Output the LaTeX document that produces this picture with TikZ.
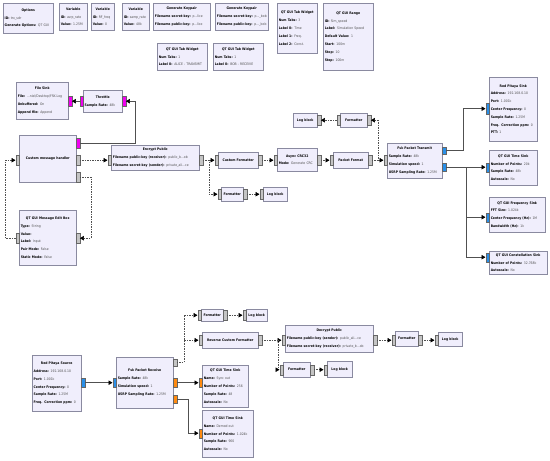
\documentclass[tikz,border=0pt]{standalone}
\usepackage{fontspec}
\setmainfont{DejaVu Sans Condensed}
\usetikzlibrary{arrows.meta}
\definecolor{blkfill}{HTML}{F0EEFC}
\definecolor{blkdraw}{HTML}{8A8AA0}
\definecolor{portgray}{HTML}{C4C4C4}
\definecolor{portmag}{HTML}{F000F0}
\definecolor{portblue}{HTML}{2A8FE8}
\definecolor{portorange}{HTML}{FF8A10}
\definecolor{wire}{HTML}{505050}
\definecolor{valcol}{HTML}{505050}
\newcommand\blkfont{\fontsize{3.4}{7.8}\selectfont}
\newcommand\ttl[1]{\makebox[\linewidth][c]{\bfseries #1}\par}
\newcommand\pv[2]{\mbox{\textbf{#1:} {\color{valcol}#2}}}
\newcommand\gblock[6]{\pgfmathsetmacro\tw{#4-3}\node[blk, minimum width=#4pt, minimum height=#5pt, text width=\tw pt] (#1) at (#2,#3) {#6};}
\newcommand\gport[6]{\node[port, fill=#6, minimum width=#4pt, minimum height=#5pt] (#1) at (#2,#3) {};}
\tikzset{
 blk/.style={draw=blkdraw, fill=blkfill, line width=0.5pt, anchor=north west, inner xsep=1.5pt, inner ysep=1pt, align=left, font=\blkfont, execute at begin node={\setlength\parindent{0pt}}},
 port/.style={draw=black!60, line width=0.4pt, anchor=north west, inner sep=0pt},
 stream/.style={draw=wire, line width=0.6pt, -{Triangle[length=4pt,width=4.5pt,color=black]}},
 msg/.style={draw=wire, line width=0.5pt, dash pattern=on 1.5pt off 1pt, -{Triangle[length=4pt,width=4.5pt,color=black]}}
}
\begin{document}
\begin{tikzpicture}[x=1pt,y=-1pt]
\useasboundingbox (0,0) rectangle (550,461);
\fill[white] (0,0) rectangle (550,461);
% top row
\gblock{opt}{3}{3}{50}{30}{\ttl{Options}\pv{ID}{trx\_sdr}\\\pv{Generate Options}{QT GUI}}
\gblock{var1}{59}{3}{28}{27}{\ttl{Variable}\pv{ID}{usrp\_rate}\\\pv{Value}{1.25M}}
\gblock{var2}{91}{3}{23}{27}{\ttl{Variable}\pv{ID}{RF\_freq}\\\pv{Value}{0}}
\gblock{var3}{122}{3}{27}{27}{\ttl{Variable}\pv{ID}{samp\_rate}\\\pv{Value}{48k}}
\gblock{key1}{153}{3}{57}{27}{\ttl{Generate Keypair}\pv{Filename secret-key}{p...lice}\\\pv{Filename public-key}{p...lice}}
\gblock{key2}{215}{3}{53}{27}{\ttl{Generate Keypair}\pv{Filename secret-key}{p...\_bob}\\\pv{Filename public-key}{p...\_bob}}
\gblock{tab3}{277}{3}{40}{50}{\ttl{QT GUI Tab Widget}\pv{Num Tabs}{3}\\\pv{Label 0}{Time}\\\pv{Label 1}{Freq.}\\\pv{Label 2}{Const.}}
\gblock{rng}{323}{3}{50}{67}{\ttl{QT GUI Range}\pv{ID}{Sim\_speed}\\\pv{Label}{Simulation Speed}\\\pv{Default Value}{1}\\\pv{Start}{100m}\\\pv{Stop}{10}\\\pv{Step}{100m}}
\gblock{tabA}{157}{43}{50}{27}{\ttl{QT GUI Tab Widget}\pv{Num Tabs}{1}\\\pv{Label 0}{ALICE - TRANSMIT}}
\gblock{tabB}{213}{43}{50}{27}{\ttl{QT GUI Tab Widget}\pv{Num Tabs}{1}\\\pv{Label 0}{BOB - RECEIVE}}
% left part
\gblock{fsink}{16}{82}{52}{37}{\ttl{File Sink}\pv{File}{...niel/Desktop/FSK.Log}\\\pv{Unbuffered}{On}\\\pv{Append file}{Append}}
\gport{fsink-in}{68}{96}{3.5}{10}{portmag}
\gblock{thr}{83}{90}{39}{22}{\ttl{Throttle}\pv{Sample Rate}{48k}}
\gport{thr-out}{79.5}{96}{3.5}{10}{portmag}
\gport{thr-in}{122}{96}{3.5}{10}{portmag}
\gblock{cmh}{19}{135}{57}{47}{\ttl{Custom message handler}}
\gport{cmh-o1}{76}{138}{3.5}{10}{portmag}
\gport{cmh-o2}{76}{155}{3.5}{10}{portgray}
\gport{cmh-o3}{76}{172}{3.5}{10}{portgray}
\gport{cmh-in}{15.5}{155}{3.5}{10}{portgray}
\gblock{meb}{19}{210}{57}{55}{\ttl{QT GUI Message Edit Box}\pv{Type}{String}\\\pv{Value}{}\\\pv{Label}{Input}\\\pv{Pair Mode}{False}\\\pv{Static Mode}{False}}
\gport{meb-in}{76}{233}{3.5}{10}{portgray}
\gport{meb-out}{15.5}{233}{3.5}{10}{portgray}
% transmit chain
\gblock{enc}{111}{145}{88}{25}{\ttl{Encrypt Public}\pv{Filename public-key (receiver)}{public\_b...ob}\\\pv{Filename secret-key (sender)}{private\_ali...ce}}
\gport{enc-in}{107.5}{155}{3.5}{10}{portgray}
\gport{enc-out}{199}{155}{3.5}{10}{portgray}
\gblock{cfmt}{218}{152}{40}{16}{\ttl{Custom Formatter}}
\gport{cfmt-in}{214.5}{155}{3.5}{10}{portgray}
\gport{cfmt-out}{258}{155}{3.5}{10}{portgray}
\gblock{crc}{277}{148}{40}{23}{\ttl{Async CRC32}\pv{Mode}{Generate CRC}}
\gport{crc-in}{273.5}{155}{3.5}{10}{portgray}
\gport{crc-out}{317}{155}{3.5}{10}{portgray}
\gblock{pfmt}{333}{152}{35}{16}{\ttl{Packet Format}}
\gport{pfmt-in}{329.5}{155}{3.5}{10}{portgray}
\gport{pfmt-out}{368}{155}{3.5}{10}{portgray}
\gblock{fskt}{387}{143}{55}{35}{\ttl{Fsk Packet Transmit}\pv{Sample Rate}{48k}\\\pv{Simulation speed}{1}\\\pv{USRP Sampling Rate}{1.25M}}
\gport{fskt-in}{383.5}{155}{3.5}{10}{portgray}
\gport{fskt-o1}{442}{146.5}{3.5}{7.5}{portblue}
\gport{fskt-o2}{442}{163.25}{3.5}{7.5}{portblue}
\gblock{fmtu}{340}{113}{27}{14}{\ttl{Formatter}}
\gport{fmtu-out}{336.5}{115}{3.5}{10}{portgray}
\gport{fmtu-in}{367}{115}{3.5}{10}{portgray}
\gblock{logu}{293}{113}{24}{14}{\ttl{Log block}}
\gport{logu-in}{317}{115}{3.5}{10}{portgray}
\gblock{fmtl}{221}{187}{22}{14}{\ttl{Formatter}}
\gport{fmtl-in}{217.5}{189}{3.5}{10}{portgray}
\gport{fmtl-out}{243}{189}{3.5}{10}{portgray}
\gblock{logl}{263}{187}{24}{14}{\ttl{Log block}}
\gport{logl-in}{259.5}{189}{3.5}{10}{portgray}
% sinks
\gblock{rps}{489}{77}{48}{64}{\ttl{Red Pitaya Sink}\pv{Address}{192.168.0.10}\\\pv{Port}{1.001k}\\\pv{Center Frequency}{0}\\\pv{Sample Rate}{1.25M}\\\pv{Freq. Correction ppm}{0}\\\pv{PTT}{1}}
\gport{rps-in}{485.5}{103}{3.5}{11}{portblue}
\gblock{tst}{489}{150}{48}{35}{\ttl{QT GUI Time Sink}\pv{Number of Points}{20k}\\\pv{Sample Rate}{48k}\\\pv{Autoscale}{No}}
\gport{tst-in}{485.5}{162.5}{3.5}{9}{portblue}
\gblock{fqs}{489}{197}{56}{35}{\ttl{QT GUI Frequency Sink}\pv{FFT Size}{1.024k}\\\pv{Center Frequency (Hz)}{1M}\\\pv{Bandwidth (Hz)}{1k}}
\gport{fqs-in}{485.5}{212.5}{3.5}{9}{portblue}
\gblock{cst}{489}{251}{58}{23}{\ttl{QT GUI Constellation Sink}\pv{Number of Points}{32.768k}\\\pv{Autoscale}{No}}
\gport{cst-in}{485.5}{252.5}{3.5}{9}{portblue}
% receive chain
\gblock{rpsrc}{32}{355}{49}{56}{\ttl{Red Pitaya Source}\pv{Address}{192.168.0.10}\\\pv{Port}{1.001k}\\\pv{Center Frequency}{0}\\\pv{Sample Rate}{1.25M}\\\pv{Freq. Correction ppm}{0}}
\gport{rpsrc-out}{81}{378}{3.5}{9}{portblue}
\gblock{fskr}{116}{357}{57}{51}{\ttl{Fsk Packet Receive}\pv{Sample Rate}{48k}\\\pv{Simulation speed}{1}\\\pv{USRP Sampling Rate}{1.25M}}
\gport{fskr-in}{112.5}{378}{3.5}{9}{portblue}
\gport{fskr-m}{173}{359}{3.5}{7}{portgray}
\gport{fskr-o1}{173}{378}{3.5}{9}{portorange}
\gport{fskr-o2}{173}{395}{3.5}{8}{portorange}
\gblock{fmtb}{201}{309}{22}{12}{\ttl{Formatter}}
\gport{fmtb-in}{197.5}{310}{3.5}{10}{portgray}
\gport{fmtb-out}{223}{310}{3.5}{10}{portgray}
\gblock{logb}{246}{309}{21}{12}{\ttl{Log block}}
\gport{logb-in}{242.5}{310}{3.5}{10}{portgray}
\gblock{rcf}{202}{332}{56}{16}{\ttl{Reverse Custom Formatter}}
\gport{rcf-in}{198.5}{335}{3.5}{10}{portgray}
\gport{rcf-out}{258}{335}{3.5}{10}{portgray}
\gblock{dec}{285}{325}{88}{27}{\ttl{Decrypt Public}\pv{Filename public-key (sender)}{public\_ali...ce}\\\pv{Filename secret-key (receiver)}{private\_b...ob}}
\gport{dec-in}{281.5}{335}{3.5}{10}{portgray}
\gport{dec-out}{373}{335}{3.5}{10}{portgray}
\gblock{fmtd}{395}{331}{23}{15}{\ttl{Formatter}}
\gport{fmtd-in}{391.5}{335}{3.5}{10}{portgray}
\gport{fmtd-out}{418}{335}{3.5}{10}{portgray}
\gblock{logd}{438}{332}{24}{14}{\ttl{Log block}}
\gport{logd-in}{434.5}{335}{3.5}{10}{portgray}
\gblock{fmtl2}{283}{362}{27}{15}{\ttl{Formatter}}
\gport{fmtl2-in}{279.5}{364.5}{3.5}{10}{portgray}
\gport{fmtl2-out}{310}{364.5}{3.5}{10}{portgray}
\gblock{logl2}{327}{361}{25}{16}{\ttl{Log block}}
\gport{logl2-in}{323.5}{364.5}{3.5}{10}{portgray}
\gblock{tsr1}{202}{365}{46}{42}{\ttl{QT GUI Time Sink}\pv{Name}{Sync out}\\\pv{Number of Points}{256}\\\pv{Sample Rate}{48}\\\pv{Autoscale}{No}}
\gport{tsr1-in}{198.5}{378}{3.5}{9}{portorange}
\gblock{tsr2}{202}{410}{51}{47}{\ttl{QT GUI Time Sink}\pv{Name}{Demod out}\\\pv{Number of Points}{1.024k}\\\pv{Sample Rate}{960}\\\pv{Autoscale}{No}}
\gport{tsr2-in}{198.5}{428.5}{3.5}{9}{portorange}
% connectors
\draw[stream] (thr-out.west) -- (fsink-in.east);
\draw[stream] (cmh-o1.east) -- ++(55,0) |- (thr-in.east);
\draw[msg] (cmh-o2.east) -- (enc-in.west);
\draw[msg] (cmh-o3.east) -- ++(11,0) |- (meb-in.east);
\draw[msg] (meb-out.west) -- ++(-10,0) |- (cmh-in.west);
\draw[msg] (enc-out.east) -- (cfmt-in.west);
\draw[msg] (enc-out.east) -- ++(6,0) |- (fmtl-in.west);
\draw[msg] (fmtl-out.east) -- (logl-in.west);
\draw[msg] (cfmt-out.east) -- (crc-in.west);
\draw[msg] (crc-out.east) -- (pfmt-in.west);
\draw[msg] (pfmt-out.east) -- (fskt-in.west);
\draw[msg] (pfmt-out.east) -- ++(6,0) |- (fmtu-in.east);
\draw[msg] (fmtu-out.west) -- (logu-in.east);
\draw[stream] (fskt-o1.east) -- ++(17,0) |- (rps-in.west);
\draw[stream] (fskt-o2.east) -- (tst-in.west);
\draw[stream] (fskt-o2.east) -- ++(20,0) |- (fqs-in.west);
\draw[stream] (fskt-o2.east) -- ++(20,0) |- (cst-in.west);
\draw[stream] (rpsrc-out.east) -- (fskr-in.west);
\draw[msg] (fskr-m.east) -- ++(7,0) |- (fmtb-in.west);
\draw[msg] (fskr-m.east) -- ++(7,0) |- (rcf-in.west);
\draw[msg] (fmtb-out.east) -- (logb-in.west);
\draw[msg] (rcf-out.east) -- (dec-in.west);
\draw[msg] (rcf-out.east) -- ++(16,0) |- (fmtl2-in.west);
\draw[msg] (fmtl2-out.east) -- (logl2-in.west);
\draw[msg] (dec-out.east) -- (fmtd-in.west);
\draw[msg] (fmtd-out.east) -- (logd-in.west);
\draw[stream] (fskr-o1.east) -- (tsr1-in.west);
\draw[stream] (fskr-o2.east) -- ++(11,0) |- (tsr2-in.west);
\end{tikzpicture}
\end{document}
